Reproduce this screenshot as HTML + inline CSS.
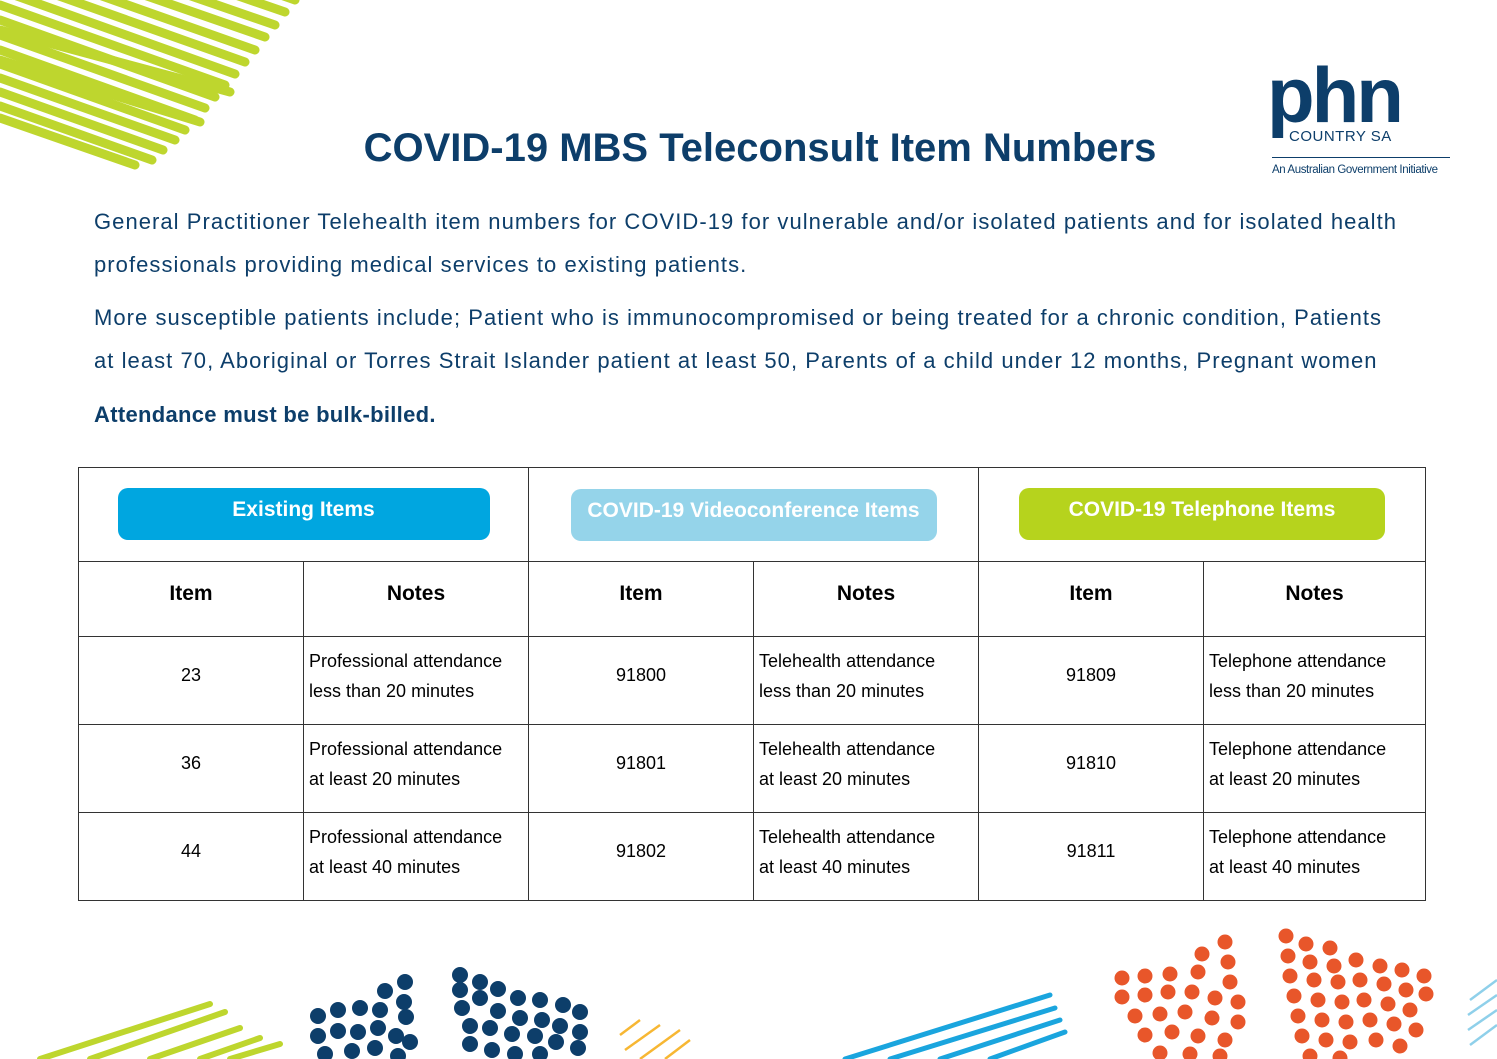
<!DOCTYPE html>
<html><head><meta charset="utf-8"><style>
body{margin:0;width:1497px;height:1059px;background:#fff;position:relative;overflow:hidden;font-family:"Liberation Sans",sans-serif}
.a{position:absolute}
h1{position:absolute;left:0;width:1520px;text-align:center;top:126px;margin:0;font-size:40px;color:#0d3e6a;font-weight:bold;letter-spacing:0px}
.p{position:absolute;left:94px;color:#0d3e6a;font-size:22px;line-height:43px;white-space:nowrap;letter-spacing:1.05px}
table{position:absolute;left:78px;top:467px;border-collapse:collapse;width:1348px}
td{border:1px solid #333;font-size:18px;color:#000;padding:0 0 10px 0}
.n{padding-left:5px;line-height:30px}
.pill{display:block;margin:0 auto;height:52px;border-radius:10px;color:#fff;font-weight:bold;font-size:21px;line-height:44px;text-align:center}
</style></head><body>
<svg class="a" style="left:0;top:0" width="320" height="180">
<g stroke="#bed62e" stroke-width="9" stroke-linecap="round" fill="none">
<path d="M0 -103 L295 0"/><path d="M0 -86 L285 12"/><path d="M0 -70 L275 25"/><path d="M0 -55 L265 37"/><path d="M0 -40 L255 50"/><path d="M0 -25 L245 62"/><path d="M0 -10 L235 74"/><path d="M0 5 L225 85"/><path d="M0 20 L215 97"/><path d="M0 35 L205 108"/><path d="M0 50 L195 120"/><path d="M0 64 L185 130"/><path d="M0 78 L175 140"/><path d="M0 92 L163 150"/><path d="M0 106 L152 160"/><path d="M0 118 L135 165"/><path d="M0 30 L230 92"/><path d="M0 60 L200 122"/>
</g></svg>
<div class="a" style="left:1267px;top:56px;font-size:78px;font-weight:bold;color:#0d3e6a;line-height:78px;letter-spacing:-3px">phn</div>
<div class="a" style="left:1289px;top:128px;font-size:15px;color:#0d3e6a;letter-spacing:0.5px">COUNTRY SA</div>
<div class="a" style="left:1272px;top:157px;width:178px;border-top:1px solid #0d3e6a"></div>
<div class="a" style="left:1272px;top:164px;font-size:11.5px;color:#0d3e6a;letter-spacing:-0.4px">An Australian Government Initiative</div>
<h1>COVID-19 MBS Teleconsult Item Numbers</h1>
<div class="p" style="top:200px">General Practitioner Telehealth item numbers for COVID-19 for vulnerable and/or isolated patients and for isolated health<br>professionals providing medical services to existing patients.</div>
<div class="p" style="top:296px">More susceptible patients include; Patient who is immunocompromised or being treated for a chronic condition, Patients<br>at least 70, Aboriginal or Torres Strait Islander patient at least 50, Parents of a child under 12 months, Pregnant women</div>
<div class="p" style="top:393px;font-weight:bold;letter-spacing:0.3px">Attendance must be bulk-billed.</div>
<table>
<tr style="height:94px"><td colspan="2" style="padding:0"><span class="pill" style="width:372px;background:#00a6e0;margin-top:-2px">Existing Items</span></td><td colspan="2" style="padding:0"><span class="pill" style="width:366px;background:#95d4ea">COVID-19 Videoconference Items</span></td><td colspan="2" style="padding:0"><span class="pill" style="width:366px;background:#b6d31d;margin-top:-2px">COVID-19 Telephone Items</span></td></tr>
<tr style="height:75px"><td style="width:224px;text-align:center;font-weight:bold;font-size:21px">Item</td><td style="width:224px;text-align:center;font-weight:bold;font-size:21px">Notes</td><td style="width:224px;text-align:center;font-weight:bold;font-size:21px">Item</td><td style="width:224px;text-align:center;font-weight:bold;font-size:21px">Notes</td><td style="width:224px;text-align:center;font-weight:bold;font-size:21px">Item</td><td style="text-align:center;font-weight:bold;font-size:21px">Notes</td></tr>
<tr style="height:88px"><td align="center">23</td><td class="n">Professional attendance<br>less than 20 minutes</td><td align="center">91800</td><td class="n">Telehealth attendance<br>less than 20 minutes</td><td align="center">91809</td><td class="n">Telephone attendance<br>less than 20 minutes</td></tr>
<tr style="height:88px"><td align="center">36</td><td class="n">Professional attendance<br>at least 20 minutes</td><td align="center">91801</td><td class="n">Telehealth attendance<br>at least 20 minutes</td><td align="center">91810</td><td class="n">Telephone attendance<br>at least 20 minutes</td></tr>
<tr style="height:88px"><td align="center">44</td><td class="n">Professional attendance<br>at least 40 minutes</td><td align="center">91802</td><td class="n">Telehealth attendance<br>at least 40 minutes</td><td align="center">91811</td><td class="n">Telephone attendance<br>at least 40 minutes</td></tr>
</table>
<svg class="a" style="left:0;top:920px" width="1497" height="139">
<g stroke="#bed62e" stroke-width="6" stroke-linecap="round"><path d="M40 139 L210 84"/><path d="M90 139 L225 92"/><path d="M150 139 L240 108"/><path d="M200 139 L260 118"/><path d="M230 139 L280 124"/></g>
<g fill="#0d3e6a">
<circle cx="405" cy="62" r="8"/><circle cx="385" cy="71" r="8"/><circle cx="404" cy="82" r="8"/>
<circle cx="318" cy="96" r="8"/><circle cx="338" cy="90" r="8"/><circle cx="360" cy="88" r="8"/><circle cx="380" cy="90" r="8"/><circle cx="406" cy="97" r="8"/>
<circle cx="318" cy="116" r="8"/><circle cx="338" cy="111" r="8"/><circle cx="358" cy="112" r="8"/><circle cx="378" cy="108" r="8"/><circle cx="396" cy="116" r="8"/><circle cx="410" cy="122" r="8"/>
<circle cx="325" cy="134" r="8"/><circle cx="352" cy="131" r="8"/><circle cx="375" cy="128" r="8"/><circle cx="398" cy="136" r="8"/>
<circle cx="460" cy="55" r="8"/><circle cx="480" cy="62" r="8"/><circle cx="498" cy="69" r="8"/><circle cx="518" cy="78" r="8"/><circle cx="540" cy="80" r="8"/><circle cx="563" cy="85" r="8"/><circle cx="580" cy="92" r="8"/>
<circle cx="460" cy="70" r="8"/><circle cx="480" cy="78" r="8"/><circle cx="498" cy="91" r="8"/><circle cx="520" cy="98" r="8"/><circle cx="542" cy="100" r="8"/><circle cx="560" cy="106" r="8"/><circle cx="580" cy="112" r="8"/>
<circle cx="462" cy="88" r="8"/><circle cx="470" cy="106" r="8"/><circle cx="490" cy="108" r="8"/><circle cx="512" cy="114" r="8"/><circle cx="535" cy="116" r="8"/><circle cx="556" cy="122" r="8"/><circle cx="578" cy="128" r="8"/>
<circle cx="470" cy="124" r="8"/><circle cx="492" cy="130" r="8"/><circle cx="515" cy="134" r="8"/><circle cx="540" cy="134" r="8"/>
</g>
<g stroke="#f7b733" stroke-width="2.5"><path d="M620 115 L640 100"/><path d="M625 130 L660 105"/><path d="M640 139 L680 110"/><path d="M665 139 L690 120"/></g>
<g stroke="#1aa5de" stroke-width="5" stroke-linecap="round"><path d="M845 139 L1050 75"/><path d="M890 139 L1055 88"/><path d="M940 139 L1060 100"/><path d="M990 139 L1065 112"/></g>
<g fill="#e8562a">
<circle cx="1225" cy="22" r="7.5"/><circle cx="1202" cy="34" r="7.5"/><circle cx="1228" cy="42" r="7.5"/><circle cx="1122" cy="58" r="7.5"/><circle cx="1145" cy="56" r="7.5"/><circle cx="1170" cy="54" r="7.5"/><circle cx="1198" cy="52" r="7.5"/><circle cx="1230" cy="62" r="7.5"/>
<circle cx="1122" cy="77" r="7.5"/><circle cx="1145" cy="75" r="7.5"/><circle cx="1168" cy="72" r="7.5"/><circle cx="1192" cy="72" r="7.5"/><circle cx="1215" cy="78" r="7.5"/><circle cx="1238" cy="82" r="7.5"/>
<circle cx="1135" cy="96" r="7.5"/><circle cx="1160" cy="94" r="7.5"/><circle cx="1185" cy="92" r="7.5"/><circle cx="1212" cy="98" r="7.5"/><circle cx="1238" cy="102" r="7.5"/>
<circle cx="1145" cy="115" r="7.5"/><circle cx="1172" cy="112" r="7.5"/><circle cx="1198" cy="116" r="7.5"/><circle cx="1225" cy="120" r="7.5"/><circle cx="1160" cy="133" r="7.5"/><circle cx="1190" cy="134" r="7.5"/><circle cx="1220" cy="136" r="7.5"/>
<circle cx="1286" cy="16" r="7.5"/><circle cx="1306" cy="24" r="7.5"/><circle cx="1330" cy="28" r="7.5"/><circle cx="1288" cy="36" r="7.5"/><circle cx="1310" cy="42" r="7.5"/><circle cx="1334" cy="46" r="7.5"/><circle cx="1356" cy="40" r="7.5"/><circle cx="1380" cy="46" r="7.5"/><circle cx="1402" cy="50" r="7.5"/><circle cx="1424" cy="56" r="7.5"/>
<circle cx="1290" cy="56" r="7.5"/><circle cx="1314" cy="60" r="7.5"/><circle cx="1338" cy="62" r="7.5"/><circle cx="1360" cy="60" r="7.5"/><circle cx="1384" cy="64" r="7.5"/><circle cx="1406" cy="70" r="7.5"/><circle cx="1426" cy="74" r="7.5"/>
<circle cx="1294" cy="76" r="7.5"/><circle cx="1318" cy="80" r="7.5"/><circle cx="1342" cy="82" r="7.5"/><circle cx="1364" cy="80" r="7.5"/><circle cx="1388" cy="84" r="7.5"/><circle cx="1410" cy="90" r="7.5"/>
<circle cx="1298" cy="96" r="7.5"/><circle cx="1322" cy="100" r="7.5"/><circle cx="1346" cy="102" r="7.5"/><circle cx="1370" cy="100" r="7.5"/><circle cx="1394" cy="104" r="7.5"/><circle cx="1416" cy="110" r="7.5"/>
<circle cx="1302" cy="116" r="7.5"/><circle cx="1326" cy="120" r="7.5"/><circle cx="1350" cy="122" r="7.5"/><circle cx="1376" cy="120" r="7.5"/><circle cx="1400" cy="126" r="7.5"/><circle cx="1310" cy="136" r="7.5"/><circle cx="1340" cy="138" r="7.5"/>
</g>
<g stroke="#8fd0ea" stroke-width="2.5"><path d="M1470 80 L1497 60"/><path d="M1468 95 L1497 75"/><path d="M1468 110 L1497 90"/><path d="M1470 125 L1497 105"/></g>
</svg>
</body></html>
